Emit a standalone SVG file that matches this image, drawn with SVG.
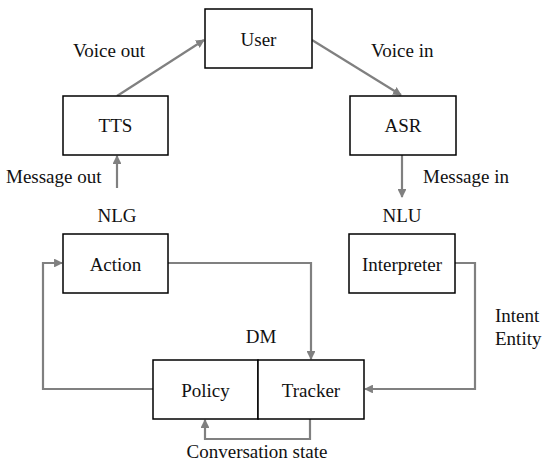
<svg xmlns="http://www.w3.org/2000/svg" width="550" height="467" viewBox="0 0 550 467" font-family="Liberation Serif, serif" font-size="19">
<style>
.box{fill:#fff;stroke:#000;stroke-width:1.5}
text{fill:#111}
.c{text-anchor:middle}
.con{fill:none;stroke:#808080;stroke-width:2.2}
</style>
<defs>
<marker id="ah" viewBox="0 0 10 10" refX="9" refY="5" markerWidth="4" markerHeight="4" orient="auto" markerUnits="strokeWidth">
<path d="M0,0 L10,5 L0,10 z" fill="#808080"/>
</marker>
</defs>
<rect width="550" height="467" fill="#fff"/>
<g id="connectors">
<line class="con" x1="117" y1="96" x2="204" y2="40" marker-end="url(#ah)"/>
<line class="con" x1="312" y1="40" x2="401" y2="95" marker-end="url(#ah)"/>
<line class="con" x1="402" y1="155" x2="402" y2="197" marker-end="url(#ah)"/>
<line class="con" x1="117" y1="188" x2="117" y2="156" marker-end="url(#ah)"/>
<polyline class="con" points="168,263 311,263 311,359" marker-end="url(#ah)"/>
<polyline class="con" points="455,263 475,263 475,389 365,389" marker-end="url(#ah)"/>
<polyline class="con" points="153,389 43,389 43,263 62,263" marker-end="url(#ah)"/>
<polyline class="con" points="310,419 310,439 205,439 205,420" marker-end="url(#ah)"/>
</g>
<g id="user"><rect class="box" x="205" y="9" width="107" height="59"/><text class="c" x="258.5" y="46">User</text></g>
<g id="tts"><rect class="box" x="63" y="96" width="105" height="59"/><text class="c" x="115.5" y="132">TTS</text></g>
<g id="asr"><rect class="box" x="350" y="96" width="106" height="59"/><text class="c" x="403" y="132">ASR</text></g>
<g id="action"><rect class="box" x="63" y="234" width="105" height="59"/><text class="c" x="115.5" y="271">Action</text></g>
<g id="interpreter"><rect class="box" x="349" y="234" width="106" height="59"/><text class="c" x="402" y="271">Interpreter</text></g>
<g id="policy"><rect class="box" x="153" y="360" width="105" height="59"/><text class="c" x="205.5" y="397">Policy</text></g>
<g id="tracker"><rect class="box" x="258" y="360" width="106" height="59"/><text class="c" x="311" y="397">Tracker</text></g>
<g id="labels">
<text x="73" y="57">Voice out</text>
<text x="371" y="57">Voice in</text>
<text x="6" y="183">Message out</text>
<text x="423" y="183">Message in</text>
<text class="c" x="117" y="222">NLG</text>
<text class="c" x="402" y="222">NLU</text>
<text class="c" x="261" y="343">DM</text>
<text x="495" y="322">Intent</text>
<text x="495" y="345">Entity</text>
<text class="c" x="257" y="458">Conversation state</text>
</g>
</svg>
